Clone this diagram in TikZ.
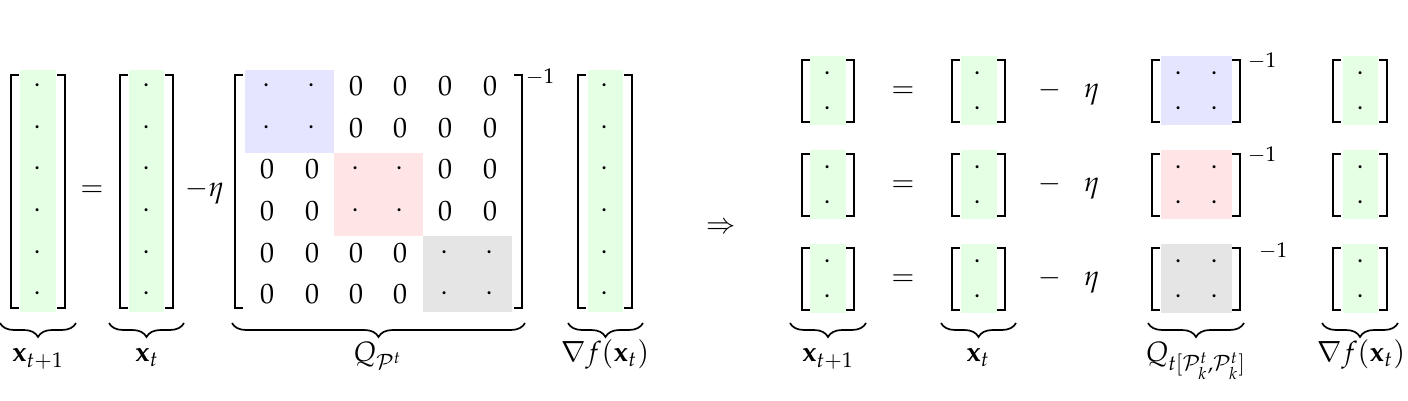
\documentclass[tikz,border=0pt]{standalone}
\usepackage{amsmath}
\usepackage{mathpazo}
\usepackage{xcolor}
\usepackage{tikz}
\usetikzlibrary{decorations.pathreplacing}

\begin{document}
\begin{tikzpicture}[
x=0.3571pt, y=-0.3571pt,
cell dot/.style = {anchor=base, yshift=-2.5pt, inner sep=0pt},
cell zero/.style = {anchor=base, yshift=-3.4pt, inner sep=0pt},
op sign/.style = {anchor=base, yshift=-2.5pt, inner sep=0pt},
inv power/.style = {inner sep=0pt},
brace label/.style = {anchor=base, inner sep=0pt},
vec bracket/.style = {line width=0.7pt},
under brace/.style = {decorate, decoration={brace, mirror, amplitude=5pt}, line width=0.6pt}
]

\useasboundingbox (0,0) rectangle (1408,401);

% full system
\fill[green!10] (20,70) rectangle (56,312);
\fill[green!10] (129,70) rectangle (164,312);
\fill[blue!10] (245,70) rectangle (334,153);
\fill[red!10] (334,153) rectangle (423,236);
\fill[gray!20] (423,236) rectangle (512,312);
\fill[green!10] (588,70) rectangle (623,312);

\draw[vec bracket] (19,75) -- (11,75) -- (11,308) -- (19,308);
\draw[vec bracket] (57,75) -- (65,75) -- (65,308) -- (57,308);
\draw[vec bracket] (128,75) -- (120,75) -- (120,308) -- (128,308);
\draw[vec bracket] (165,75) -- (173,75) -- (173,308) -- (165,308);
\draw[vec bracket] (243,75) -- (235,75) -- (235,308) -- (243,308);
\draw[vec bracket] (514,75) -- (522,75) -- (522,308) -- (514,308);
\draw[vec bracket] (586,75) -- (578,75) -- (578,308) -- (586,308);
\draw[vec bracket] (624,75) -- (632,75) -- (632,308) -- (624,308);

\node (u1) at (38, 86) [cell dot] {$\cdot$};
\node (u2) at (38,128) [cell dot] {$\cdot$};
\node (u3) at (38,169) [cell dot] {$\cdot$};
\node (u4) at (38,211) [cell dot] {$\cdot$};
\node (u5) at (38,253) [cell dot] {$\cdot$};
\node (u6) at (38,294) [cell dot] {$\cdot$};

\node (eq) at (92,190) [op sign] {$=$};

\node (v1) at (147, 86) [cell dot] {$\cdot$};
\node (v2) at (147,128) [cell dot] {$\cdot$};
\node (v3) at (147,169) [cell dot] {$\cdot$};
\node (v4) at (147,211) [cell dot] {$\cdot$};
\node (v5) at (147,253) [cell dot] {$\cdot$};
\node (v6) at (147,294) [cell dot] {$\cdot$};

\node (meta) at (205,190) [op sign] {$-\eta$};

\node (q11) at (267, 86) [cell dot] {$\cdot$};
\node (q12) at (312, 86) [cell dot] {$\cdot$};
\node (q13) at (356, 86) [cell zero] {$0$};
\node (q14) at (400, 86) [cell zero] {$0$};
\node (q15) at (445, 86) [cell zero] {$0$};
\node (q16) at (490, 86) [cell zero] {$0$};

\node (q21) at (267,128) [cell dot] {$\cdot$};
\node (q22) at (312,128) [cell dot] {$\cdot$};
\node (q23) at (356,128) [cell zero] {$0$};
\node (q24) at (400,128) [cell zero] {$0$};
\node (q25) at (445,128) [cell zero] {$0$};
\node (q26) at (490,128) [cell zero] {$0$};

\node (q31) at (267,169) [cell zero] {$0$};
\node (q32) at (312,169) [cell zero] {$0$};
\node (q33) at (356,169) [cell dot] {$\cdot$};
\node (q34) at (400,169) [cell dot] {$\cdot$};
\node (q35) at (445,169) [cell zero] {$0$};
\node (q36) at (490,169) [cell zero] {$0$};

\node (q41) at (267,211) [cell zero] {$0$};
\node (q42) at (312,211) [cell zero] {$0$};
\node (q43) at (356,211) [cell dot] {$\cdot$};
\node (q44) at (400,211) [cell dot] {$\cdot$};
\node (q45) at (445,211) [cell zero] {$0$};
\node (q46) at (490,211) [cell zero] {$0$};

\node (q51) at (267,253) [cell zero] {$0$};
\node (q52) at (312,253) [cell zero] {$0$};
\node (q53) at (356,253) [cell zero] {$0$};
\node (q54) at (400,253) [cell zero] {$0$};
\node (q55) at (445,253) [cell dot] {$\cdot$};
\node (q56) at (490,253) [cell dot] {$\cdot$};

\node (q61) at (267,294) [cell zero] {$0$};
\node (q62) at (312,294) [cell zero] {$0$};
\node (q63) at (356,294) [cell zero] {$0$};
\node (q64) at (400,294) [cell zero] {$0$};
\node (q65) at (445,294) [cell dot] {$\cdot$};
\node (q66) at (490,294) [cell dot] {$\cdot$};

\node (inv) at (540,77) [inv power] {$\scriptstyle -1$};

\node (g1) at (605, 86) [cell dot] {$\cdot$};
\node (g2) at (605,128) [cell dot] {$\cdot$};
\node (g3) at (605,169) [cell dot] {$\cdot$};
\node (g4) at (605,211) [cell dot] {$\cdot$};
\node (g5) at (605,253) [cell dot] {$\cdot$};
\node (g6) at (605,294) [cell dot] {$\cdot$};

\draw[under brace] (0,323) -- (76,323);
\draw[under brace] (109,323) -- (184,323);
\draw[under brace] (232,323) -- (525,323);
\draw[under brace] (568,323) -- (643,323);

\node (lu) at (38,362) [brace label] {$\mathbf{x}_{t+1}$};
\node (lv) at (147,362) [brace label] {$\mathbf{x}_t$};
\node (lq) at (378,362) [brace label] {$Q_{\mathcal{P}^t}$};
\node (lg) at (605,362) [brace label] {$\nabla f(\mathbf{x}_t)$};

\node (impl) at (721,227) [op sign] {$\Rightarrow$};

% block 1
\fill[green!10] (810,56.5) rectangle (846,125.5);
\fill[green!10] (961,56.5) rectangle (997,125.5);
\fill[blue!10] (1161,56.5) rectangle (1232,125.5);
\fill[green!10] (1343,56.5) rectangle (1378,125.5);

\draw[vec bracket] (810,60) -- (802,60) -- (802,122) -- (810,122);
\draw[vec bracket] (846,60) -- (854,60) -- (854,122) -- (846,122);
\draw[vec bracket] (960,60) -- (952,60) -- (952,122) -- (960,122);
\draw[vec bracket] (997,60) -- (1005,60) -- (1005,122) -- (997,122);
\draw[vec bracket] (1160,60) -- (1152,60) -- (1152,122) -- (1160,122);
\draw[vec bracket] (1232,60) -- (1240,60) -- (1240,122) -- (1232,122);
\draw[vec bracket] (1341,60) -- (1333,60) -- (1333,122) -- (1341,122);
\draw[vec bracket] (1379,60) -- (1387,60) -- (1387,122) -- (1379,122);

\node (r1u1) at (828, 73.5) [cell dot] {$\cdot$};
\node (r1u2) at (828,108.5) [cell dot] {$\cdot$};
\node (r1eq) at (903,91) [op sign] {$=$};
\node (r1v1) at (978, 73.5) [cell dot] {$\cdot$};
\node (r1v2) at (978,108.5) [cell dot] {$\cdot$};
\node (r1minus) at (1050,91) [op sign] {$-$};
\node (r1eta) at (1092,91) [op sign] {$\eta$};
\node (r1q11) at (1179, 73.5) [cell dot] {$\cdot$};
\node (r1q12) at (1215, 73.5) [cell dot] {$\cdot$};
\node (r1q21) at (1179,108.5) [cell dot] {$\cdot$};
\node (r1q22) at (1215,108.5) [cell dot] {$\cdot$};
\node (r1inv) at (1262,61) [inv power] {$\scriptstyle -1$};
\node (r1g1) at (1361, 73.5) [cell dot] {$\cdot$};
\node (r1g2) at (1361,108.5) [cell dot] {$\cdot$};

% block 2
\fill[green!10] (810,150.5) rectangle (846,219.5);
\fill[green!10] (961,150.5) rectangle (997,219.5);
\fill[red!10] (1161,150.5) rectangle (1232,219.5);
\fill[green!10] (1343,150.5) rectangle (1378,219.5);

\draw[vec bracket] (810,154) -- (802,154) -- (802,216) -- (810,216);
\draw[vec bracket] (846,154) -- (854,154) -- (854,216) -- (846,216);
\draw[vec bracket] (960,154) -- (952,154) -- (952,216) -- (960,216);
\draw[vec bracket] (997,154) -- (1005,154) -- (1005,216) -- (997,216);
\draw[vec bracket] (1160,154) -- (1152,154) -- (1152,216) -- (1160,216);
\draw[vec bracket] (1232,154) -- (1240,154) -- (1240,216) -- (1232,216);
\draw[vec bracket] (1341,154) -- (1333,154) -- (1333,216) -- (1341,216);
\draw[vec bracket] (1379,154) -- (1387,154) -- (1387,216) -- (1379,216);

\node (r2u1) at (828,167.5) [cell dot] {$\cdot$};
\node (r2u2) at (828,202.5) [cell dot] {$\cdot$};
\node (r2eq) at (903,185) [op sign] {$=$};
\node (r2v1) at (978,167.5) [cell dot] {$\cdot$};
\node (r2v2) at (978,202.5) [cell dot] {$\cdot$};
\node (r2minus) at (1050,185) [op sign] {$-$};
\node (r2eta) at (1092,185) [op sign] {$\eta$};
\node (r2q11) at (1179,167.5) [cell dot] {$\cdot$};
\node (r2q12) at (1215,167.5) [cell dot] {$\cdot$};
\node (r2q21) at (1179,202.5) [cell dot] {$\cdot$};
\node (r2q22) at (1215,202.5) [cell dot] {$\cdot$};
\node (r2inv) at (1262,155) [inv power] {$\scriptstyle -1$};
\node (r2g1) at (1361,167.5) [cell dot] {$\cdot$};
\node (r2g2) at (1361,202.5) [cell dot] {$\cdot$};

% block 3
\fill[green!10] (810,244.5) rectangle (846,313.5);
\fill[green!10] (961,244.5) rectangle (997,313.5);
\fill[gray!20] (1161,244.5) rectangle (1232,313.5);
\fill[green!10] (1343,244.5) rectangle (1378,313.5);

\draw[vec bracket] (810,248) -- (802,248) -- (802,310) -- (810,310);
\draw[vec bracket] (846,248) -- (854,248) -- (854,310) -- (846,310);
\draw[vec bracket] (960,248) -- (952,248) -- (952,310) -- (960,310);
\draw[vec bracket] (997,248) -- (1005,248) -- (1005,310) -- (997,310);
\draw[vec bracket] (1160,248) -- (1152,248) -- (1152,310) -- (1160,310);
\draw[vec bracket] (1232,248) -- (1240,248) -- (1240,310) -- (1232,310);
\draw[vec bracket] (1341,248) -- (1333,248) -- (1333,310) -- (1341,310);
\draw[vec bracket] (1379,248) -- (1387,248) -- (1387,310) -- (1379,310);

\node (r3u1) at (828,261.5) [cell dot] {$\cdot$};
\node (r3u2) at (828,296.5) [cell dot] {$\cdot$};
\node (r3eq) at (903,279) [op sign] {$=$};
\node (r3v1) at (978,261.5) [cell dot] {$\cdot$};
\node (r3v2) at (978,296.5) [cell dot] {$\cdot$};
\node (r3minus) at (1050,279) [op sign] {$-$};
\node (r3eta) at (1092,279) [op sign] {$\eta$};
\node (r3q11) at (1179,261.5) [cell dot] {$\cdot$};
\node (r3q12) at (1215,261.5) [cell dot] {$\cdot$};
\node (r3q21) at (1179,296.5) [cell dot] {$\cdot$};
\node (r3q22) at (1215,296.5) [cell dot] {$\cdot$};
\node (r3inv) at (1273,251) [inv power] {$\scriptstyle -1$};
\node (r3g1) at (1361,261.5) [cell dot] {$\cdot$};
\node (r3g2) at (1361,296.5) [cell dot] {$\cdot$};

\draw[under brace] (790,323) -- (866,323);
\draw[under brace] (941,323) -- (1016,323);
\draw[under brace] (1148,323) -- (1244,323);
\draw[under brace] (1322,323) -- (1398,323);

\node (rlu) at (828,362) [brace label] {$\mathbf{x}_{t+1}$};
\node (rlv) at (978,362) [brace label] {$\mathbf{x}_t$};
\node (rlq) at (1196,362) [brace label] {$Q_{t[\mathcal{P}^t_k,\mathcal{P}^t_k]}$};
\node (rlg) at (1361,362) [brace label] {$\nabla f(\mathbf{x}_t)$};
\end{tikzpicture}
\end{document}
